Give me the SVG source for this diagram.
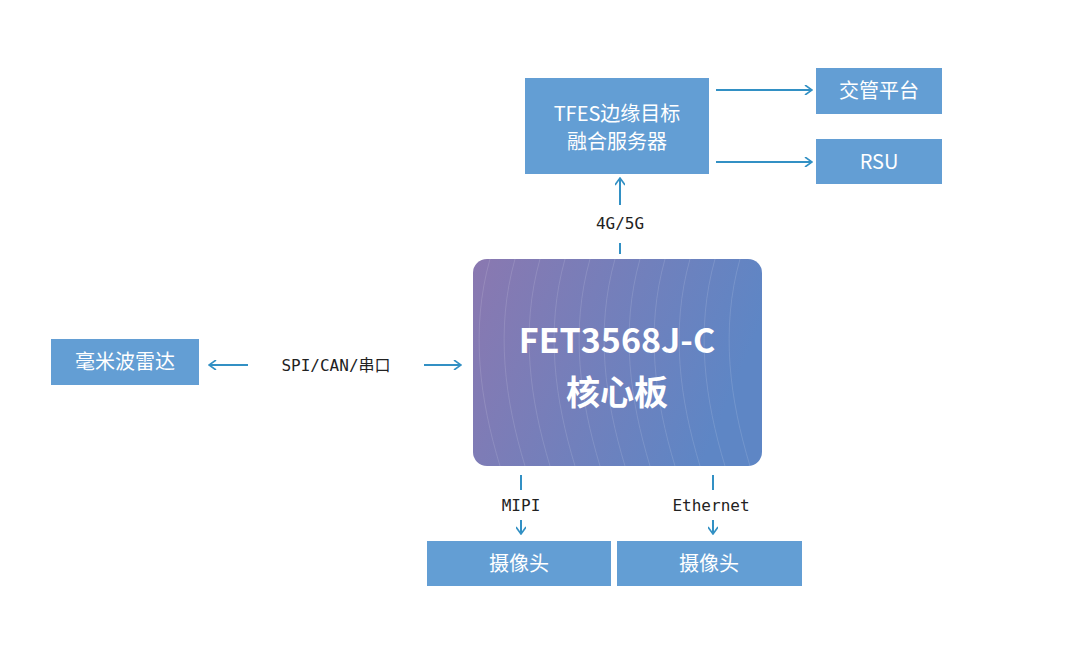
<svg xmlns="http://www.w3.org/2000/svg" width="1065" height="666" viewBox="0 0 1065 666">
<style>
.b{fill:#639ed4}
.t{fill:#fff;font-family:"Noto Sans CJK SC","Noto Sans",sans-serif;font-size:20px;text-anchor:middle}
.l{fill:#222;font-family:"DejaVu Sans Mono","Noto Sans CJK SC",monospace;font-size:16px;text-anchor:middle}
.c{stroke:#3290c4;stroke-width:2;fill:none}
.w{stroke:#fff;stroke-opacity:0.13;stroke-width:1;fill:none}
</style>
<defs>
<linearGradient id="g" x1="0" y1="0" x2="1" y2="0.3">
<stop offset="0" stop-color="#8a78b0"/><stop offset="1" stop-color="#5e86c5"/>
</linearGradient>
<marker id="a" viewBox="0 0 10 10" refX="9" refY="5" markerWidth="10" markerHeight="10" markerUnits="userSpaceOnUse" orient="auto"><path d="M2,0 L9,5 L2,10" fill="none" stroke="#3290c4" stroke-width="1.6"/></marker>
<clipPath id="cp"><rect x="473" y="259" width="289" height="207" rx="14"/></clipPath>
</defs>
<rect width="1065" height="666" fill="#fff"/>
<g id="core">
<rect x="473" y="259" width="289" height="207" rx="14" fill="url(#g)"/>
<g clip-path="url(#cp)">
<path class="w" d="M490,259 C470,330 480,400 500,466"/>
<path class="w" d="M515,259 C495,330 505,400 525,466"/>
<path class="w" d="M540,259 C520,330 530,400 550,466"/>
<path class="w" d="M565,259 C545,330 555,400 575,466"/>
<path class="w" d="M590,259 C570,330 580,400 600,466"/>
<path class="w" d="M615,259 C595,330 605,400 625,466"/>
<path class="w" d="M640,259 C620,330 630,400 650,466"/>
<path class="w" d="M665,259 C645,330 655,400 675,466"/>
<path class="w" d="M690,259 C670,330 680,400 700,466"/>
<path class="w" d="M715,259 C695,330 705,400 725,466"/>
<path class="w" d="M740,259 C720,330 730,400 750,466"/>
</g>
<text x="617" y="353" fill="#fff" font-family="Noto Sans CJK SC,sans-serif" font-weight="bold" font-size="34" text-anchor="middle">FET3568J-C</text>
<text x="617" y="405" fill="#fff" font-family="Noto Sans CJK SC,sans-serif" font-weight="bold" font-size="34" text-anchor="middle">核心板</text>
</g>
<g id="tfes"><rect class="b" x="525" y="78" width="184" height="96"/><text class="t" x="617" y="121">TFES边缘目标</text><text class="t" x="617" y="149">融合服务器</text></g>
<g id="jg"><rect class="b" x="816" y="68" width="126" height="46"/><text class="t" x="879" y="98">交管平台</text></g>
<g id="rsu"><rect class="b" x="816" y="139" width="126" height="45"/><text class="t" x="879" y="169">RSU</text></g>
<g id="radar"><rect class="b" x="51" y="339" width="148" height="46"/><text class="t" x="125" y="369">毫米波雷达</text></g>
<g id="cam1"><rect class="b" x="427" y="541" width="184" height="45"/><text class="t" x="519" y="571">摄像头</text></g>
<g id="cam2"><rect class="b" x="617" y="541" width="185" height="45"/><text class="t" x="709" y="571">摄像头</text></g>
<g id="connectors">
<line class="c" x1="716" y1="90" x2="812" y2="90" marker-end="url(#a)"/>
<line class="c" x1="716" y1="162" x2="812" y2="162" marker-end="url(#a)"/>
<line class="c" x1="620" y1="254" x2="620" y2="243"/>
<line class="c" x1="620" y1="205" x2="620" y2="178" marker-end="url(#a)"/>
<line class="c" x1="248" y1="365" x2="209" y2="365" marker-end="url(#a)"/>
<line class="c" x1="424" y1="365" x2="461" y2="365" marker-end="url(#a)"/>
<line class="c" x1="521" y1="475" x2="521" y2="490"/>
<line class="c" x1="521" y1="520" x2="521" y2="534" marker-end="url(#a)"/>
<line class="c" x1="713" y1="475" x2="713" y2="490"/>
<line class="c" x1="713" y1="520" x2="713" y2="534" marker-end="url(#a)"/>
</g>
<text class="l" x="620" y="229">4G/5G</text>
<text class="l" x="336" y="371">SPI/CAN/串口</text>
<text class="l" x="521" y="511">MIPI</text>
<text class="l" x="711" y="511">Ethernet</text>
</svg>
